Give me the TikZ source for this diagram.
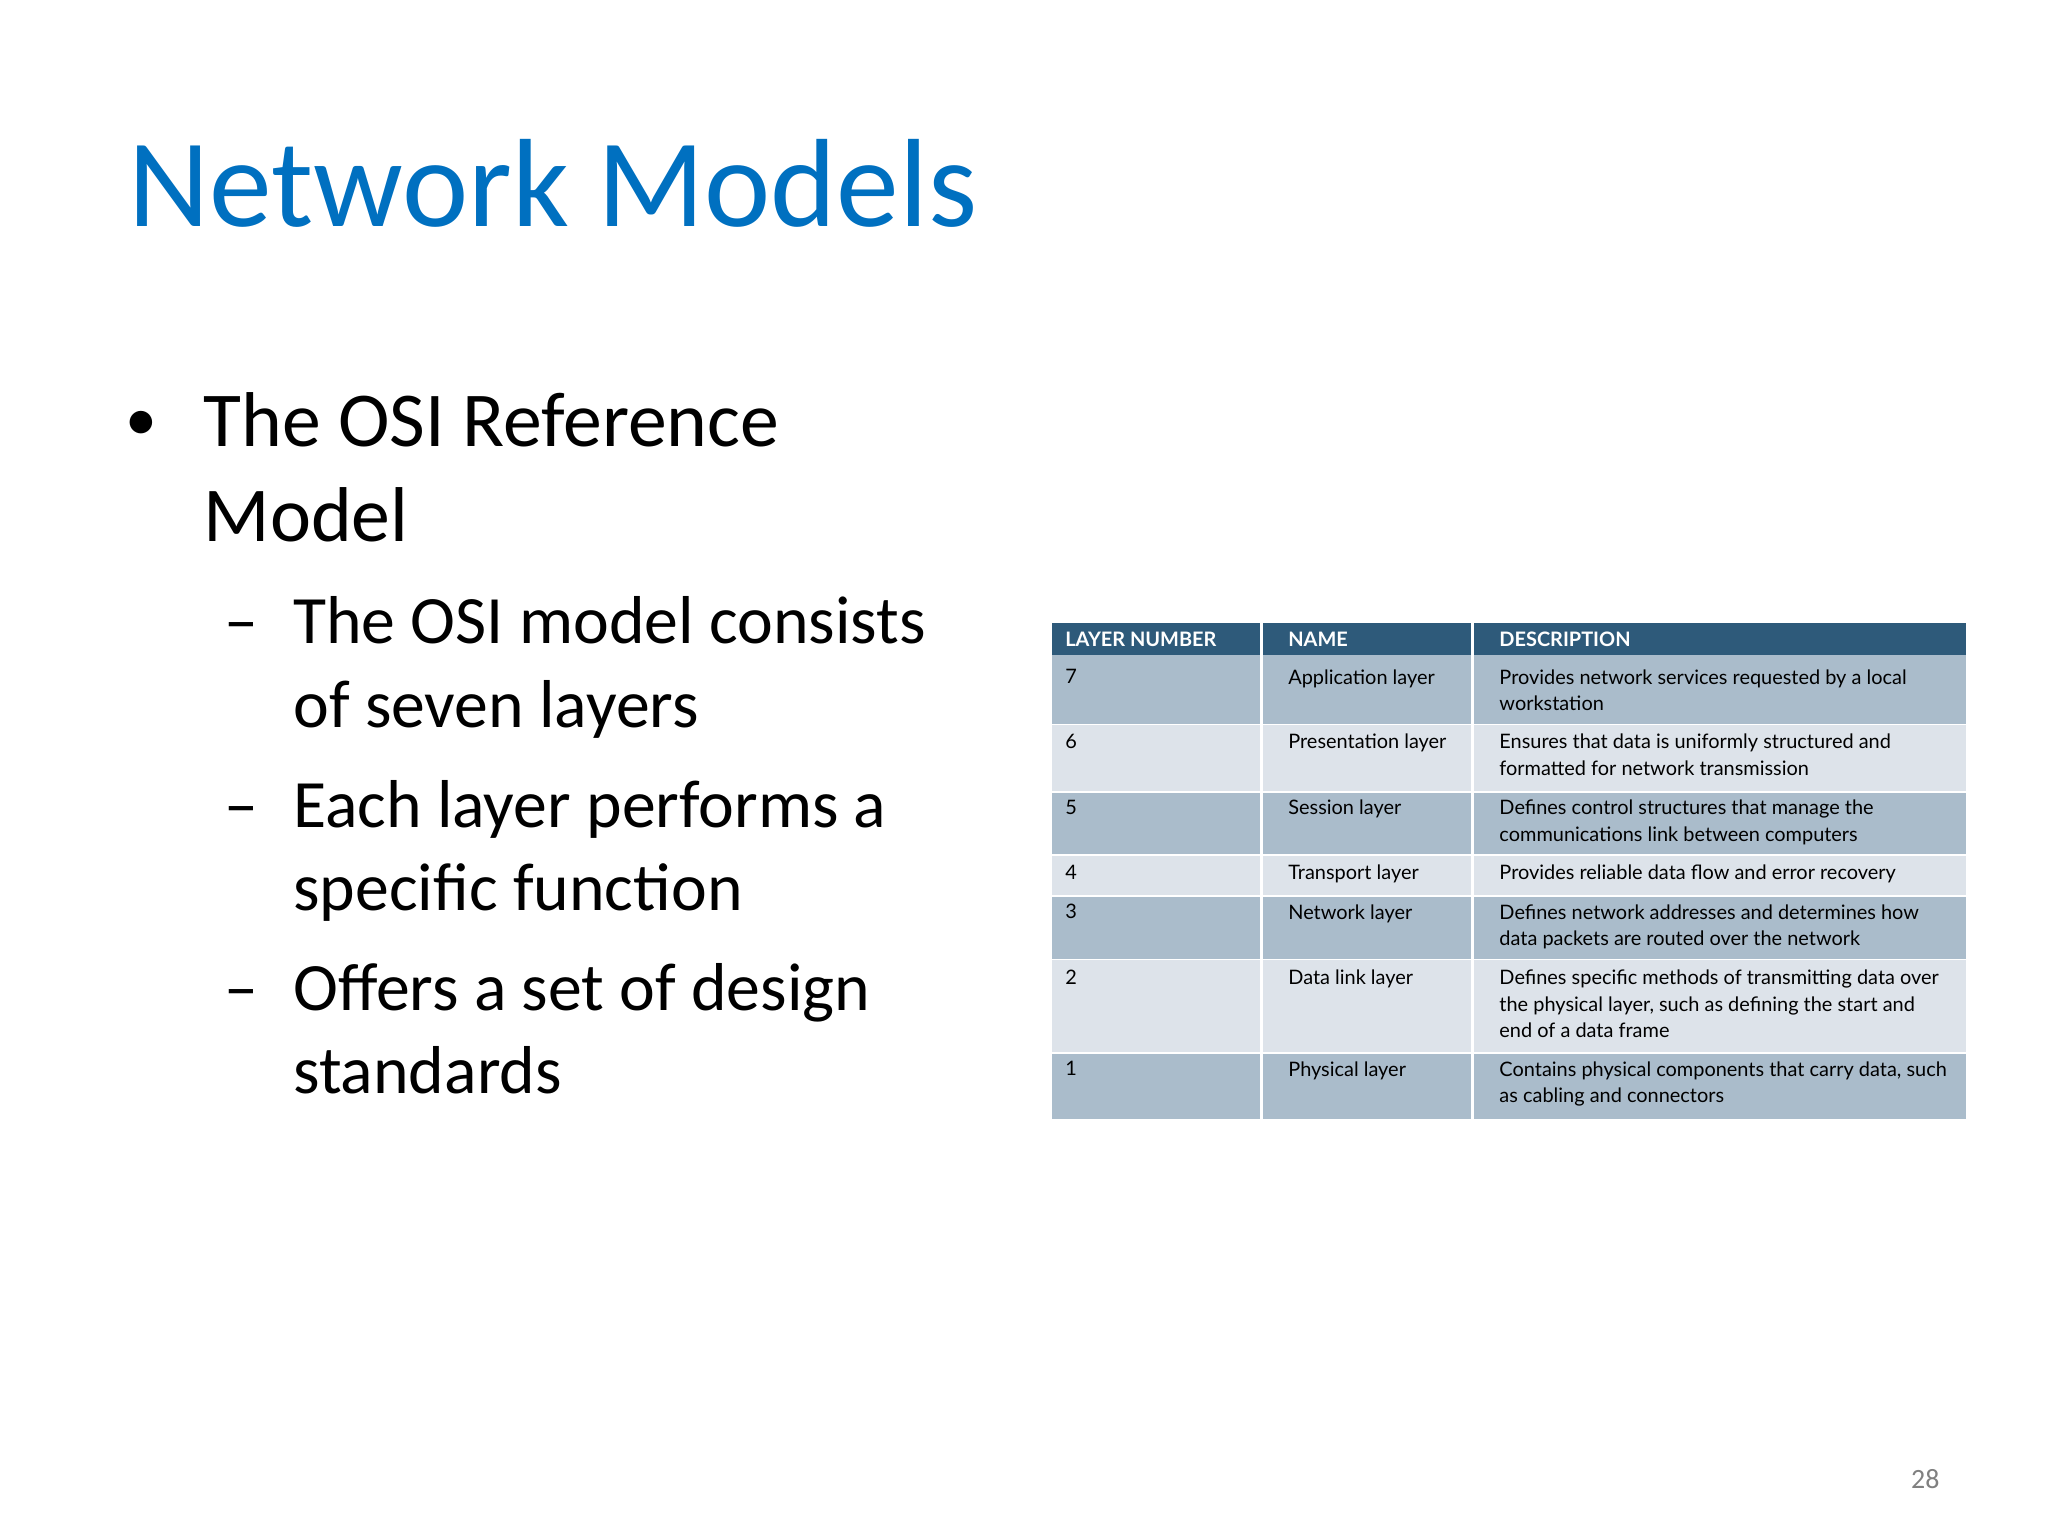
\documentclass[tikz,border=0pt]{standalone}
\usepackage{fontspec}
\setmainfont{Carlito}
\newfontfamily\tabfont{Lato}
\definecolor{titleblue}{RGB}{0,112,192}
\definecolor{hdr}{RGB}{46,90,122}
\definecolor{rowA}{RGB}{170,188,203}
\definecolor{rowB}{RGB}{221,227,234}
\begin{document}
\begin{tikzpicture}[x=0.6598bp,y=-0.6598bp,
  tx/.style={anchor=base west,inner sep=0pt},
  cell/.style={anchor=north west,inner sep=0pt,font=\tabfont\fontsize{10}{13.2}\selectfont,align=left},
  hcell/.style={anchor=base west,inner sep=0pt,font=\tabfont\bfseries\fontsize{10}{12}\selectfont,text=white}]
\useasboundingbox (0,0) rectangle (1552,1164);
\fill[white] (0,0) rectangle (1552,1164);
\node[tx,text=titleblue,font=\fontsize{63}{66}\selectfont] (title) at (97,172) {Network Models};
\node[tx,font=\fontsize{32}{40}\selectfont] (b1) at (95,334) {•};
\node[tx,font=\fontsize{39}{48}\selectfont] (t1) at (154,338) {The OSI Reference};
\node[tx,font=\fontsize{39}{48}\selectfont] (t2) at (154,410) {Model};
\foreach \y/\a/\b [count=\i] in {488/The OSI model consists/of seven layers,627/Each layer performs a/specific function,766/Offers a set of design/standards}{
  \node[tx,font=\fontsize{34}{40}\selectfont] (d\i) at (170,\y) {–};
  \node[tx,font=\fontsize{34}{40}\selectfont] (s\i) at (222,\y) {\a};
  \node[tx,font=\fontsize{34}{40}\selectfont] (u\i) at (222,\y+63) {\b};
}
% table
\fill[hdr] (797,472) rectangle (1490,496);
\foreach \t/\b/\c in {496/549/rowA,549/600/rowB,600/648/rowA,648/679/rowB,679/727/rowA,727/798/rowB,798/848/rowA}
  \fill[\c] (797,\t) rectangle (1490,\b);
\foreach \x in {956,1116} \draw[white,line width=1.2pt] (\x,472) -- (\x,848);
\foreach \y in {549,600,648,679,727,798} \draw[white,line width=0.8pt] (797,\y) -- (1490,\y);
\node[hcell] (h1) at (807,490) {LAYER NUMBER};
\node[hcell] (h2) at (976,490) {NAME};
\node[hcell] (h3) at (1136,490) {DESCRIPTION};
\foreach \y/\n/\nm/\ds [count=\i] in {
 507/7/Application layer/{Provides network services requested by a local\\workstation},
 556/6/Presentation layer/{Ensures that data is uniformly structured and\\formatted for network transmission},
 606/5/Session layer/{Defines control structures that manage the\\communications link between computers},
 655/4/Transport layer/{Provides reliable data flow and error recovery},
 685/3/Network layer/{Defines network addresses and determines how\\data packets are routed over the network},
 735/2/Data link layer/{Defines specific methods of transmitting data over\\the physical layer, such as defining the start and\\end of a data frame},
 804/1/Physical layer/{Contains physical components that carry data, such\\as cabling and connectors}}{
  \node[cell] (n\i) at (807,\y) {\n};
  \node[cell] (m\i) at (976,\y) {\nm};
  \node[cell] (e\i) at (1136,\y) {\ds};
}
\node[tx,text=gray,font=\fontsize{14}{16}\selectfont] (pg) at (1448,1128) {28};
\end{tikzpicture}
\end{document}
